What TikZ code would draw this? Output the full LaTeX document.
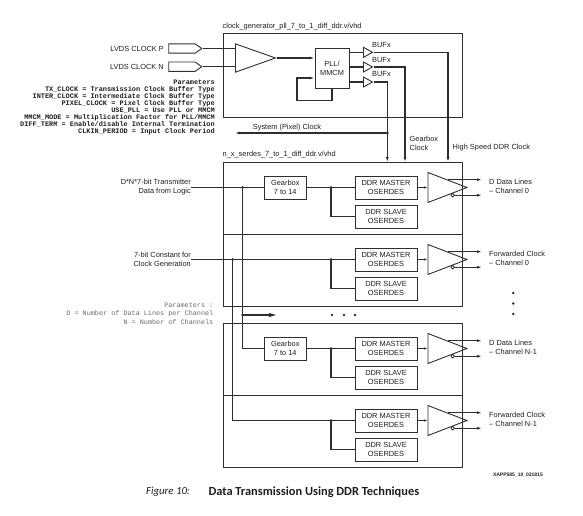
\documentclass[tikz,border=0pt]{standalone}
\usepackage{fontspec}
\setmainfont{Liberation Sans}
\setmonofont{Liberation Mono}
\newfontfamily\capfont{Carlito}
\usetikzlibrary{shapes.geometric, shapes.symbols, arrows.meta, calc}

\definecolor{ln}{HTML}{2E2E2E}
\definecolor{txt}{HTML}{1E1E1E}
\definecolor{prmgray}{HTML}{6E6A66}
\newcommand{\dfont}{\fontsize{7.4}{9}\selectfont}
\newcommand{\pfont}{\fontsize{6.9}{6.9}\selectfont\ttfamily}

\tikzset{
  sig/.style={draw=ln, line width=1.1pt},
  arr/.style={sig, -{Latex[length=5pt,width=3pt]}},
  chbox/.style={draw=ln, line width=1pt, minimum width=239pt, minimum height=72pt, inner sep=0pt, anchor=north west},
  blk/.style={draw=ln, line width=0.9pt, minimum width=62pt, minimum height=23pt, inner sep=0pt, align=center},
  gbox/.style={blk, minimum width=42.7pt},
  drv/.style={draw=ln, line width=0.9pt, isosceles triangle, isosceles triangle stretches, minimum width=30pt, minimum height=39pt, inner sep=0pt, anchor=lower side},
  bub/.style={draw=ln, line width=0.8pt, fill=white, circle, inner sep=0pt, minimum size=3.6pt},
  jdot/.style={circle, fill=ln, inner sep=0pt, minimum size=3pt},
  pad/.style={draw=ln, line width=0.9pt, signal, signal to=east, signal pointer angle=70, minimum width=33pt, minimum height=9.3pt, inner sep=0pt, anchor=west},
  lbl/.style={inner sep=0pt, align=left}
}

\begin{document}
\begin{tikzpicture}[x=1pt, y=-1pt, font=\dfont, text=txt]
\useasboundingbox (0,0) rectangle (583,516);

% Clock generator
\node[chbox, minimum height=83.5pt] (clkgen) at (223,33.5) {};
\node[lbl, anchor=base west] (clkname) at (222.5,28.7) {clock\_generator\_pll\_7\_to\_1\_diff\_ddr.v/vhd};

\node[lbl, anchor=east] (lvdsp) at (164,48.5) {LVDS CLOCK P};
\node[lbl, anchor=east] (lvdsn) at (164,66.7) {LVDS CLOCK N};
\node[pad] (padp) at (168.3,48.5) {};
\node[pad] (padn) at (168.3,66.7) {};
\node[drv, minimum width=28.3pt, minimum height=40pt] (ibuf) at (235,58) {};
\node[blk, minimum width=34pt, minimum height=40pt] (pll) at (332,68) {PLL/\\MMCM};
\node[drv, minimum width=10pt, minimum height=9pt] (bufa) at (363,52.3) {};
\node[drv, minimum width=10pt, minimum height=9pt] (bufb) at (363,67) {};
\node[drv, minimum width=10pt, minimum height=9pt] (bufc) at (363,82) {};
\node[lbl, anchor=west] (bufxa) at (372,45) {BUFx};
\node[lbl, anchor=west] (bufxb) at (372,59.5) {BUFx};
\node[lbl, anchor=west] (bufxc) at (372,74) {BUFx};

\draw[sig] (padp.east) -- (padp.east -| ibuf.lower side);
\draw[sig] (padn.east) -- (padn.east -| ibuf.lower side);
\draw[arr] (ibuf.apex) -- (ibuf.apex -| pll.west);
\coordinate (fbk) at (297,100.7);
\draw[arr] (pll.south) |- (fbk) |- ($(pll.west)+(0,10)$);
\draw[sig] (pll.east |- bufa.lower side) -- (bufa.lower side);
\draw[sig] (pll.east |- bufb.lower side) -- (bufb.lower side);
\draw[sig] (pll.east |- bufc.lower side) -- (bufc.lower side);

% Clocks down to the serdes
\coordinate (hsclk) at (448,162);
\coordinate (gbclk) at (405,162);
\coordinate (sysclk) at (387.3,162);
\coordinate (sysj) at (387.3,133);
\coordinate (sysend) at (235,133);
\draw[arr] (bufa.apex) -| (hsclk);
\draw[arr] (bufb.apex) -| (gbclk);
\draw[arr] (bufc.apex) -| (sysclk);
\draw[arr] (sysj) -- (sysend);
\node[jdot] at (sysj) {};
\node[lbl] (syslbl) at (287,128) {System (Pixel) Clock};
\node[lbl, anchor=west] (gblbl) at (409.5,143.5) {Gearbox\\Clock};
\node[lbl, anchor=west] (hslbl) at (452.5,148) {High Speed DDR Clock};

% Parameters
\node[lbl, align=right, anchor=north east, font=\pfont\bfseries] (parclk) at (215,80) {Parameters\\TX\_CLOCK = Transmission Clock Buffer Type\\INTER\_CLOCK = Intermediate Clock Buffer Type\\PIXEL\_CLOCK = Pixel Clock Buffer Type\\USE\_PLL = Use PLL or MMCM\\MMCM\_MODE = Multiplication Factor for PLL/MMCM\\DIFF\_TERM = Enable/disable Internal Termination\\CLKIN\_PERIOD = Input Clock Period};
\node[lbl, align=right, anchor=north east, text=prmgray, font=\fontsize{6.8}{8.6}\selectfont\ttfamily] (parser) at (213.5,302.5) {Parameters :\\D = Number of Data Lines per Channel\\N = Number of Channels};

% Serdes
\node[lbl, anchor=base west] (serdesname) at (222.5,156.7) {n\_x\_serdes\_7\_to\_1\_diff\_ddr.v/vhd};
\node[chbox] (cha) at (223,162) {};
\node[chbox] (chb) at (223,234) {};
\node[chbox] (chc) at (223,323) {};
\node[chbox] (chd) at (223,395) {};
\coordinate (rx) at (482,0);

% Channel 0 data
\node[lbl, align=right, anchor=east] (ina) at (191,187.5) {D*N*7-bit Transmitter\\Data from Logic};
\node[gbox] (gba) at (285.3,187.5) {Gearbox\\7 to 14};
\node[blk] (ma) at (386,187.5) {DDR MASTER\\OSERDES};
\node[blk] (sla) at (386,216.5) {DDR SLAVE\\OSERDES};
\node[drv] (drva) at (427.5,187.5) {};
\node[lbl, anchor=west] (outa) at (489,186.2) {D Data Lines\\\textendash\ Channel 0};
\coordinate (ja) at (242.7,187.5);
\coordinate (spa) at (331,187.5);
\coordinate (oa) at ($(drva.apex)!0.5!(drva.left corner)$);
\draw[sig] (ina.east) -- (gba.west);
\draw[sig] (gba.east) -- (ma.west);
\draw[sig] (spa) |- (sla.west);
\draw[sig, -{Latex[length=3.5pt,width=2.5pt]}] (ma.east) -- (drva.lower side);
\draw[arr] (oa) -- (oa -| rx);
\node[bub] (buba) at ($(drva.apex)!0.38!(drva.right corner)+(0,1.8)$) {};
\draw[arr] (buba.east) -- (buba.east -| rx);

% Forwarded clock 0
\node[lbl, align=right, anchor=east] (inb) at (191,259.5) {7-bit Constant for\\Clock Generation};
\node[blk] (mb) at (386,259.5) {DDR MASTER\\OSERDES};
\node[blk] (slb) at (386,288.5) {DDR SLAVE\\OSERDES};
\node[drv] (drvb) at (427.5,259.5) {};
\node[lbl, anchor=west] (outb) at (489,258.2) {Forwarded Clock\\\textendash\ Channel 0};
\coordinate (jb) at (232.7,259.5);
\coordinate (spb) at (331,259.5);
\coordinate (ob) at ($(drvb.apex)!0.5!(drvb.left corner)$);
\draw[sig] (inb.east) -- (mb.west);
\draw[sig] (spb) |- (slb.west);
\draw[sig, -{Latex[length=3.5pt,width=2.5pt]}] (mb.east) -- (drvb.lower side);
\draw[arr] (ob) -- (ob -| rx);
\node[bub] (bubb) at ($(drvb.apex)!0.38!(drvb.right corner)+(0,1.8)$) {};
\draw[arr] (bubb.east) -- (bubb.east -| rx);

% Channel N-1 data
\node[gbox] (gbc) at (285.3,348.5) {Gearbox\\7 to 14};
\node[blk] (mc) at (386,348.5) {DDR MASTER\\OSERDES};
\node[blk] (slc) at (386,377.5) {DDR SLAVE\\OSERDES};
\node[drv] (drvc) at (427.5,348.5) {};
\node[lbl, anchor=west] (outc) at (489,347.2) {D Data Lines\\\textendash\ Channel N-1};
\coordinate (jn) at (242.7,315);
\coordinate (jnend) at (277,315);
\coordinate (spc) at (331,348.5);
\coordinate (oc) at ($(drvc.apex)!0.5!(drvc.left corner)$);
\draw[sig] (ja) |- (gbc.west);
\draw[sig, -{Latex[length=8pt,width=4.5pt]}] (jn) -- (jnend);
\draw[sig] (gbc.east) -- (mc.west);
\draw[sig] (spc) |- (slc.west);
\draw[sig, -{Latex[length=3.5pt,width=2.5pt]}] (mc.east) -- (drvc.lower side);
\draw[arr] (oc) -- (oc -| rx);
\node[bub] (bubc) at ($(drvc.apex)!0.38!(drvc.right corner)+(0,1.8)$) {};
\draw[arr] (bubc.east) -- (bubc.east -| rx);

% Forwarded clock N-1
\node[blk] (md) at (386,420.5) {DDR MASTER\\OSERDES};
\node[blk] (sld) at (386,449.5) {DDR SLAVE\\OSERDES};
\node[drv] (drvd) at (427.5,420.5) {};
\node[lbl, anchor=west] (outd) at (489,419.2) {Forwarded Clock\\\textendash\ Channel N-1};
\coordinate (spd) at (331,420.5);
\coordinate (od) at ($(drvd.apex)!0.5!(drvd.left corner)$);
\draw[sig] (jb) |- (md.west);
\draw[sig] (spd) |- (sld.west);
\draw[sig, -{Latex[length=3.5pt,width=2.5pt]}] (md.east) -- (drvd.lower side);
\draw[arr] (od) -- (od -| rx);
\node[bub] (bubd) at ($(drvd.apex)!0.38!(drvd.right corner)+(0,1.8)$) {};
\draw[arr] (bubd.east) -- (bubd.east -| rx);

% Junctions
\foreach \j in {ja, spa, jb, spb, jn, spc, spd}
  \node[jdot] at (\j) {};

% Ellipses
\node[jdot, minimum size=2.8pt] (hd1) at (332,315) {};
\node[jdot, minimum size=2.8pt] (hd2) at (344,315) {};
\node[jdot, minimum size=2.8pt] (hd3) at (355,315) {};
\node[jdot, minimum size=2.8pt] (vd1) at (513.3,293) {};
\node[jdot, minimum size=2.8pt] (vd2) at (513.3,303.5) {};
\node[jdot, minimum size=2.8pt] (vd3) at (513.3,314) {};

% Caption
\node[lbl, anchor=east, font=\fontsize{5}{6}\selectfont\bfseries] (figid) at (543,475) {XAPP585\_10\_031815};
\node[lbl, anchor=west, font=\capfont\fontsize{10.8}{12}\selectfont\itshape] (figno) at (146,491.7) {Figure 10:};
\node[lbl, anchor=west, font=\capfont\fontsize{12.4}{14}\selectfont\bfseries] (figtitle) at (208.3,491.7) {Data Transmission Using DDR Techniques};
\end{tikzpicture}
\end{document}
